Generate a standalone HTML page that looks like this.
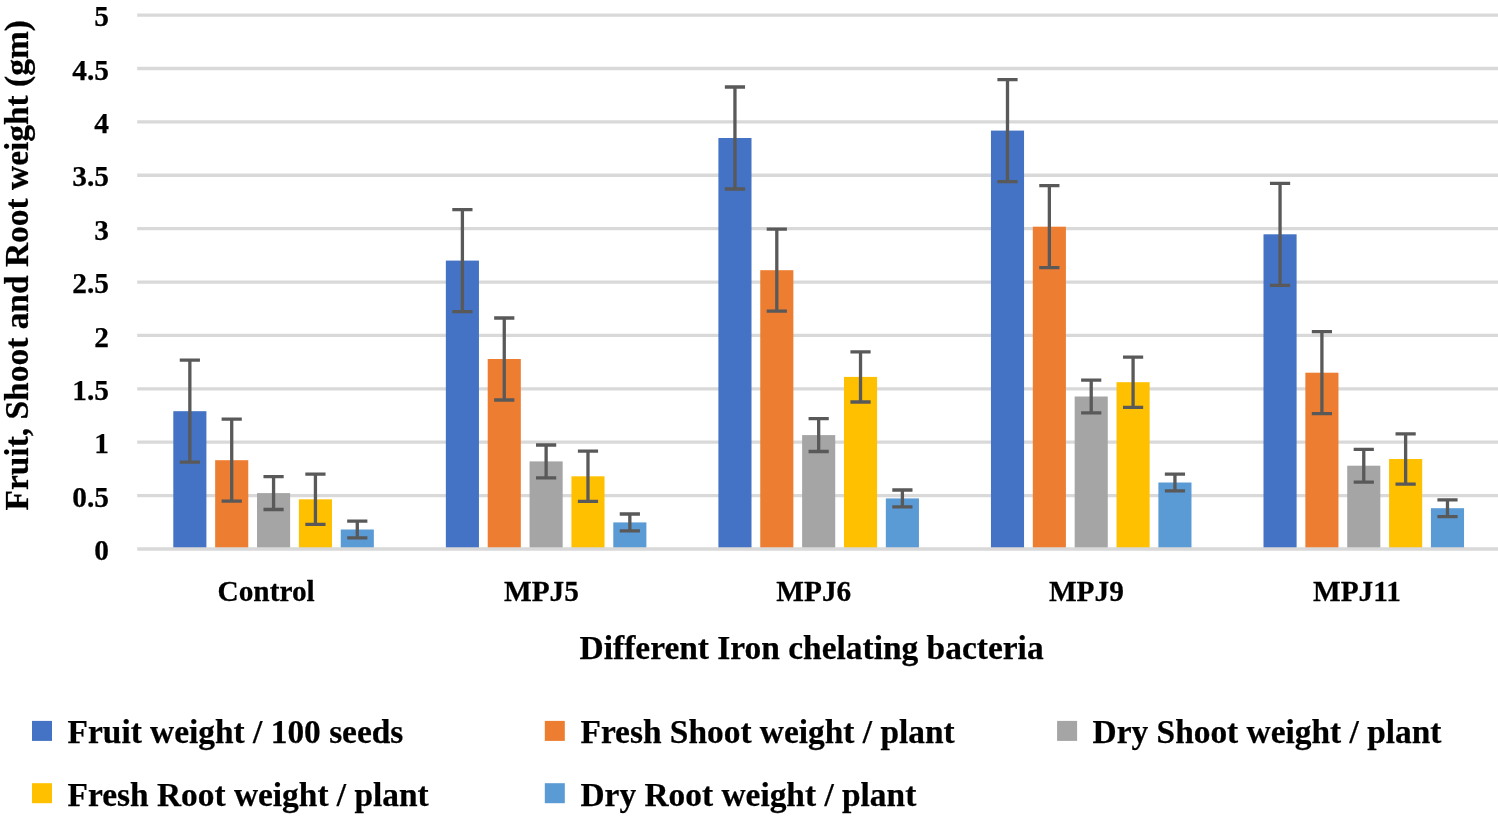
<!DOCTYPE html>
<html lang="en"><head><meta charset="utf-8"><title>Fruit, Shoot and Root weight chart</title>
<style>html,body{margin:0;padding:0;background:#fff;overflow:hidden}svg{display:block}text{font-family:"Liberation Serif","Times New Roman",serif;font-weight:bold;fill:#000;stroke:#000;stroke-width:0.25px;stroke-linejoin:round}</style></head><body>
<svg width="1498" height="816" viewBox="0 0 1498 816">
<rect width="1498" height="816" fill="#fff"/>
<g stroke="#d9d9d9" stroke-width="3.3">
<line x1="137.2" y1="495.61" x2="1498" y2="495.61"/>
<line x1="137.2" y1="442.22" x2="1498" y2="442.22"/>
<line x1="137.2" y1="388.83" x2="1498" y2="388.83"/>
<line x1="137.2" y1="335.44" x2="1498" y2="335.44"/>
<line x1="137.2" y1="282.05" x2="1498" y2="282.05"/>
<line x1="137.2" y1="228.66" x2="1498" y2="228.66"/>
<line x1="137.2" y1="175.27" x2="1498" y2="175.27"/>
<line x1="137.2" y1="121.88" x2="1498" y2="121.88"/>
<line x1="137.2" y1="68.49" x2="1498" y2="68.49"/>
<line x1="137.2" y1="15.10" x2="1498" y2="15.10"/>
</g>
<rect x="173.30" y="411.20" width="33.1" height="137.80" fill="#4472c4"/>
<rect x="215.16" y="460.20" width="33.1" height="88.80" fill="#ed7d31"/>
<rect x="257.02" y="493.10" width="33.1" height="55.90" fill="#a5a5a5"/>
<rect x="298.88" y="499.30" width="33.1" height="49.70" fill="#ffc000"/>
<rect x="340.74" y="529.50" width="33.1" height="19.50" fill="#5b9bd5"/>
<rect x="445.85" y="260.60" width="33.1" height="288.40" fill="#4472c4"/>
<rect x="487.71" y="359.00" width="33.1" height="190.00" fill="#ed7d31"/>
<rect x="529.57" y="461.40" width="33.1" height="87.60" fill="#a5a5a5"/>
<rect x="571.43" y="476.30" width="33.1" height="72.70" fill="#ffc000"/>
<rect x="613.29" y="522.40" width="33.1" height="26.60" fill="#5b9bd5"/>
<rect x="718.40" y="138.00" width="33.1" height="411.00" fill="#4472c4"/>
<rect x="760.26" y="270.20" width="33.1" height="278.80" fill="#ed7d31"/>
<rect x="802.12" y="435.10" width="33.1" height="113.90" fill="#a5a5a5"/>
<rect x="843.98" y="376.90" width="33.1" height="172.10" fill="#ffc000"/>
<rect x="885.84" y="498.40" width="33.1" height="50.60" fill="#5b9bd5"/>
<rect x="990.95" y="130.60" width="33.1" height="418.40" fill="#4472c4"/>
<rect x="1032.81" y="226.70" width="33.1" height="322.30" fill="#ed7d31"/>
<rect x="1074.67" y="396.50" width="33.1" height="152.50" fill="#a5a5a5"/>
<rect x="1116.53" y="382.20" width="33.1" height="166.80" fill="#ffc000"/>
<rect x="1158.39" y="482.50" width="33.1" height="66.50" fill="#5b9bd5"/>
<rect x="1263.50" y="234.30" width="33.1" height="314.70" fill="#4472c4"/>
<rect x="1305.36" y="372.70" width="33.1" height="176.30" fill="#ed7d31"/>
<rect x="1347.22" y="465.70" width="33.1" height="83.30" fill="#a5a5a5"/>
<rect x="1389.08" y="459.00" width="33.1" height="90.00" fill="#ffc000"/>
<rect x="1430.94" y="508.20" width="33.1" height="40.80" fill="#5b9bd5"/>
<line x1="137.2" y1="549.0" x2="1498" y2="549.0" stroke="#d9d9d9" stroke-width="3.3"/>
<g stroke="#595959" stroke-width="3.3" fill="none">
<path d="M179.75 360.20H199.95M189.85 360.20V462.20M179.75 462.20H199.95"/>
<path d="M221.61 419.20H241.81M231.71 419.20V501.20M221.61 501.20H241.81"/>
<path d="M263.47 476.70H283.67M273.57 476.70V509.50M263.47 509.50H283.67"/>
<path d="M305.33 474.20H325.53M315.43 474.20V524.40M305.33 524.40H325.53"/>
<path d="M347.19 521.10H367.39M357.29 521.10V537.90M347.19 537.90H367.39"/>
<path d="M452.30 209.60H472.50M462.40 209.60V311.60M452.30 311.60H472.50"/>
<path d="M494.16 318.00H514.36M504.26 318.00V400.00M494.16 400.00H514.36"/>
<path d="M536.02 445.00H556.22M546.12 445.00V477.80M536.02 477.80H556.22"/>
<path d="M577.88 451.20H598.08M587.98 451.20V501.40M577.88 501.40H598.08"/>
<path d="M619.74 514.00H639.94M629.84 514.00V530.80M619.74 530.80H639.94"/>
<path d="M724.85 87.00H745.05M734.95 87.00V189.00M724.85 189.00H745.05"/>
<path d="M766.71 229.20H786.91M776.81 229.20V311.20M766.71 311.20H786.91"/>
<path d="M808.57 418.70H828.77M818.67 418.70V451.50M808.57 451.50H828.77"/>
<path d="M850.43 351.80H870.63M860.53 351.80V402.00M850.43 402.00H870.63"/>
<path d="M892.29 490.00H912.49M902.39 490.00V506.80M892.29 506.80H912.49"/>
<path d="M997.40 79.60H1017.60M1007.50 79.60V181.60M997.40 181.60H1017.60"/>
<path d="M1039.26 185.70H1059.46M1049.36 185.70V267.70M1039.26 267.70H1059.46"/>
<path d="M1081.12 380.10H1101.32M1091.22 380.10V412.90M1081.12 412.90H1101.32"/>
<path d="M1122.98 357.10H1143.18M1133.08 357.10V407.30M1122.98 407.30H1143.18"/>
<path d="M1164.84 474.10H1185.04M1174.94 474.10V490.90M1164.84 490.90H1185.04"/>
<path d="M1269.95 183.30H1290.15M1280.05 183.30V285.30M1269.95 285.30H1290.15"/>
<path d="M1311.81 331.70H1332.01M1321.91 331.70V413.70M1311.81 413.70H1332.01"/>
<path d="M1353.67 449.30H1373.87M1363.77 449.30V482.10M1353.67 482.10H1373.87"/>
<path d="M1395.53 433.90H1415.73M1405.63 433.90V484.10M1395.53 484.10H1415.73"/>
<path d="M1437.39 499.80H1457.59M1447.49 499.80V516.60M1437.39 516.60H1457.59"/>
</g>
<g font-size="29.33" text-anchor="end">
<text transform="translate(109.0 560.20) scale(1 1.0)">0</text>
<text transform="translate(109.0 506.81) scale(1 1.0)">0.5</text>
<text transform="translate(109.0 453.42) scale(1 1.0)">1</text>
<text transform="translate(109.0 400.03) scale(1 1.0)">1.5</text>
<text transform="translate(109.0 346.64) scale(1 1.0)">2</text>
<text transform="translate(109.0 293.25) scale(1 1.0)">2.5</text>
<text transform="translate(109.0 239.86) scale(1 1.0)">3</text>
<text transform="translate(109.0 186.47) scale(1 1.0)">3.5</text>
<text transform="translate(109.0 133.08) scale(1 1.0)">4</text>
<text transform="translate(109.0 79.69) scale(1 1.0)">4.5</text>
<text transform="translate(109.0 26.30) scale(1 1.0)">5</text>
</g>
<g font-size="29.33">
<text id="cat0" transform="translate(217.50 600.8) scale(1 1.03)">Control</text>
<text id="cat1" transform="translate(504.00 600.8) scale(1 1.03)">MPJ5</text>
<text id="cat2" transform="translate(776.30 600.8) scale(1 1.03)">MPJ6</text>
<text id="cat3" transform="translate(1048.90 600.8) scale(1 1.03)">MPJ9</text>
<text id="cat4" transform="translate(1313.00 600.8) scale(1 1.03)">MPJ11</text>
</g>
<text id="xt" x="579.60" y="658.8" font-size="33.45">Different Iron chelating bacteria</text>
<text id="yt" transform="translate(27.90 510.50) rotate(-90)" font-size="33.45">Fruit, Shoot and Root weight (gm)</text>
<g font-size="33.4">
<rect x="32.0" y="720.9" width="20" height="20" fill="#4472c4"/>
<text id="leg0" x="67.60" y="742.8">Fruit weight / 100 seeds</text>
<rect x="544.8" y="720.9" width="20" height="20" fill="#ed7d31"/>
<text id="leg1" x="580.50" y="742.8">Fresh Shoot weight / plant</text>
<rect x="1057.1" y="720.9" width="20" height="20" fill="#a5a5a5"/>
<text id="leg2" x="1092.60" y="742.8">Dry Shoot weight / plant</text>
<rect x="32.0" y="783.2" width="20" height="20" fill="#ffc000"/>
<text id="leg3" x="67.60" y="805.7">Fresh Root weight / plant</text>
<rect x="544.8" y="783.2" width="20" height="20" fill="#5b9bd5"/>
<text id="leg4" x="580.50" y="805.7">Dry Root weight / plant</text>
</g>
</svg></body></html>
